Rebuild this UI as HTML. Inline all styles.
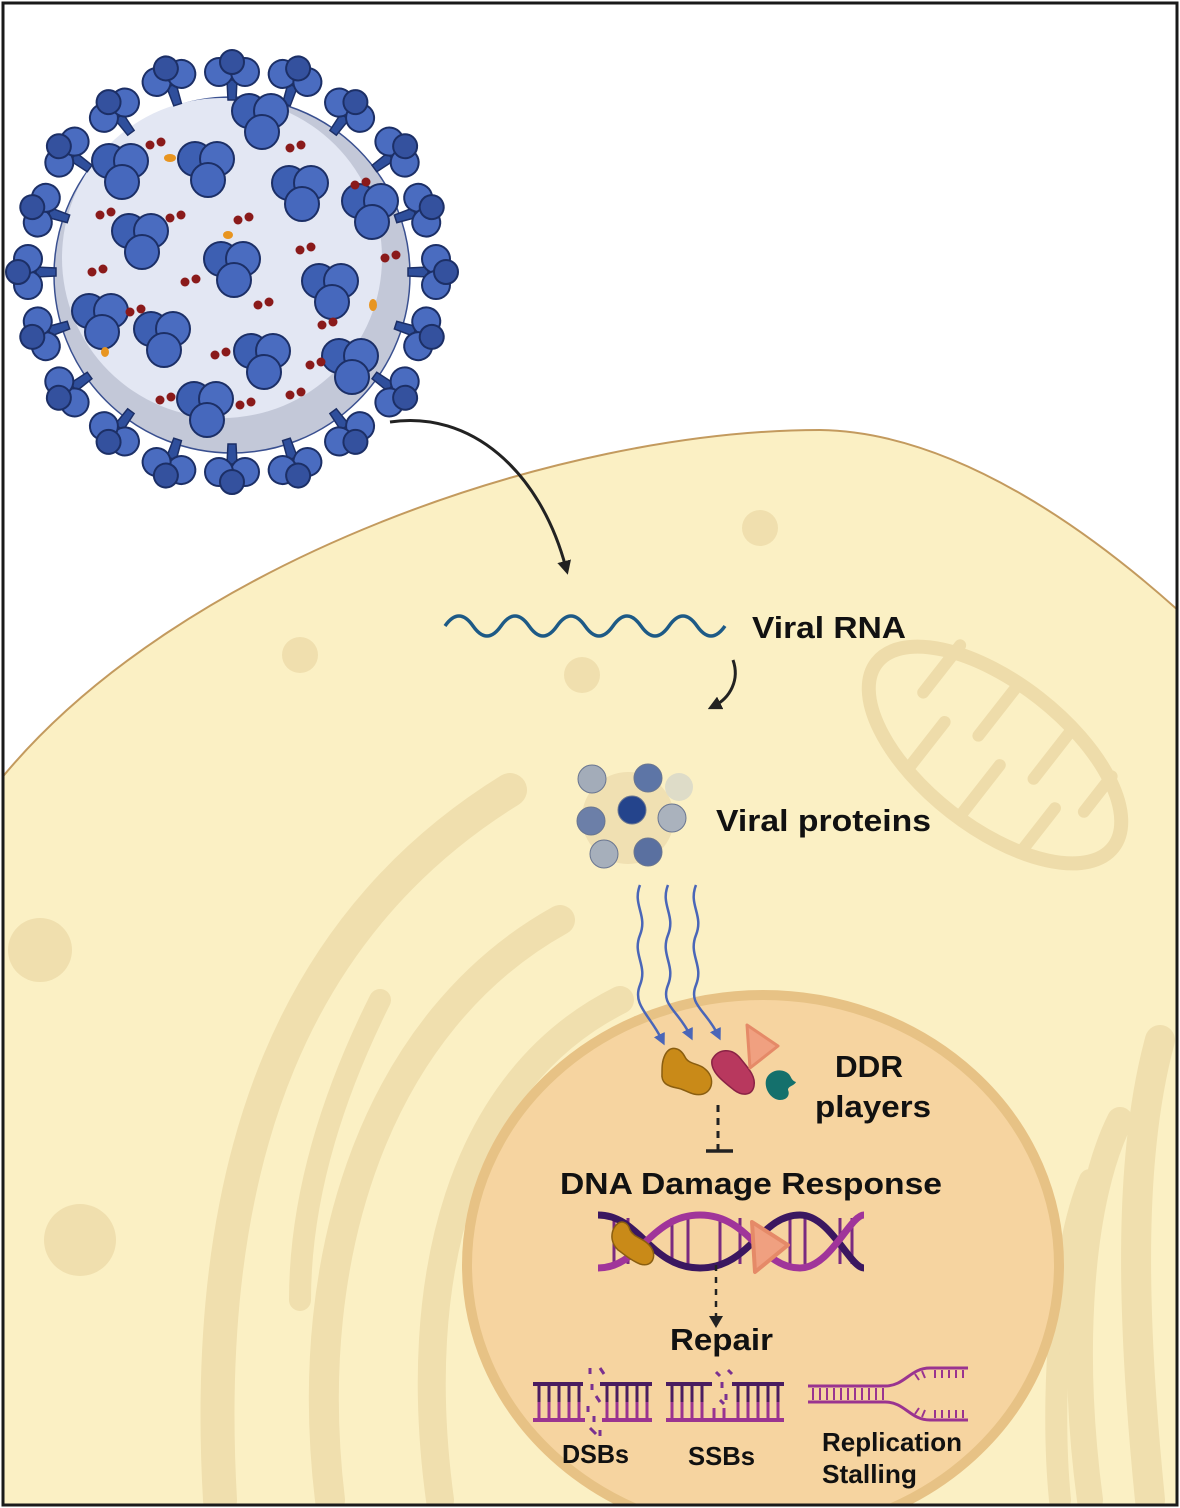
<!DOCTYPE html>
<html><head><meta charset="utf-8"><style>
html,body{margin:0;padding:0;background:#fff;width:1180px;height:1508px;overflow:hidden}
svg{display:block}
text{font-family:"Liberation Sans",sans-serif;font-weight:bold;fill:#111}
</style></head><body>
<svg width="1180" height="1508" viewBox="0 0 1180 1508" xmlns="http://www.w3.org/2000/svg">
<defs>
<clipPath id="frame"><rect x="4" y="4" width="1172" height="1500"/></clipPath>
<g id="spike">
 <path d="M-4 0 L-5 -20 L5 -20 L4 0 Z" fill="#2f4f9c" stroke="#1c2f66" stroke-width="1.5"/>
 <circle cx="-13" cy="-28" r="14" fill="#4a6cc0" stroke="#1c2f66" stroke-width="2"/>
 <circle cx="13" cy="-28" r="14" fill="#4a6cc0" stroke="#1c2f66" stroke-width="2"/>
 <circle cx="0" cy="-38" r="12" fill="#34519e" stroke="#1c2f66" stroke-width="2"/>
</g>
<g id="clus">
 <circle cx="-11" cy="-9" r="17" fill="#3d5fb2" stroke="#1c2f66" stroke-width="2"/>
 <circle cx="11" cy="-9" r="17" fill="#4a6cc0" stroke="#1c2f66" stroke-width="2"/>
 <circle cx="2" cy="12" r="17" fill="#4668bd" stroke="#1c2f66" stroke-width="2"/>
</g>
<g id="dots"><circle cx="0" cy="0" r="4.5" fill="#8a1a1a"/><circle cx="11" cy="-3" r="4.5" fill="#8a1a1a"/></g>
<marker id="ah" markerWidth="14" markerHeight="14" refX="7" refY="7" orient="auto" markerUnits="userSpaceOnUse" viewBox="0 0 14 14"><path d="M0 0 L14 7 L0 14 Z" fill="#222"/></marker>
<marker id="ahb" markerWidth="12" markerHeight="12" refX="6" refY="6" orient="auto" markerUnits="userSpaceOnUse" viewBox="0 0 12 12"><path d="M0 0 L12 6 L0 12 Z" fill="#4a66b8"/></marker>
</defs>
<rect x="0" y="0" width="1180" height="1508" fill="#fff"/>
<g clip-path="url(#frame)">
<!-- cell -->
<path d="M0 780 C180 560 560 430 820 430 C960 432 1100 540 1180 612 L1180 1508 L0 1508 Z" fill="#fbf0c4" stroke="#c39a5e" stroke-width="2"/>
<!-- ER bands -->
<g fill="none" stroke="#f0dfae" stroke-linecap="round">
 <path d="M510 790 C300 920 200 1150 220 1500" stroke-width="34"/>
 <path d="M560 920 C380 1020 300 1250 330 1500" stroke-width="30"/>
 <path d="M380 1000 C330 1100 300 1200 300 1300" stroke-width="22"/>
 <path d="M620 1000 C460 1080 410 1280 440 1500" stroke-width="28"/>
 <path d="M1160 1040 C1130 1150 1130 1300 1150 1500" stroke-width="30"/>
 <path d="M1120 1120 C1080 1200 1070 1350 1090 1500" stroke-width="26"/>
 <path d="M1090 1180 C1060 1250 1050 1400 1060 1500" stroke-width="22"/>
</g>
<circle cx="40" cy="950" r="32" fill="#f0dfae"/>
<circle cx="80" cy="1240" r="36" fill="#f0dfae"/>
<circle cx="300" cy="655" r="18" fill="#f0dfae"/>
<circle cx="582" cy="675" r="18" fill="#f0dfae"/>
<circle cx="760" cy="528" r="18" fill="#f0dfae"/>
<!-- mitochondrion -->
<g transform="rotate(38 995 755)">
 <ellipse cx="995" cy="755" rx="150" ry="72" fill="none" stroke="#eedcaa" stroke-width="14"/>
 <g stroke="#eedcaa" stroke-width="12" stroke-linecap="round">
  <line x1="900" y1="690" x2="900" y2="750"/><line x1="935" y1="820" x2="935" y2="760"/>
  <line x1="970" y1="690" x2="970" y2="750"/><line x1="1005" y1="820" x2="1005" y2="760"/>
  <line x1="1040" y1="690" x2="1040" y2="750"/><line x1="1075" y1="815" x2="1075" y2="760"/>
  <line x1="1100" y1="700" x2="1100" y2="745"/>
 </g>
</g>
<!-- nucleus -->
<ellipse cx="763" cy="1265" rx="296" ry="270" fill="#f6d4a0" stroke="#e7c285" stroke-width="10"/>
</g>
<rect x="3" y="3" width="1174" height="1502" fill="none" stroke="#1a1a1a" stroke-width="3"/>

<!-- virus -->
<g>
<circle cx="232" cy="275" r="178" fill="#c3c8d8" stroke="#3a5090" stroke-width="1.5"/>
<circle cx="222" cy="258" r="160" fill="#e3e7f3"/>
<g transform="rotate(0 232 272) translate(232 100)"><use href="#spike"/></g>
<g transform="rotate(18 232 272) translate(232 96)"><use href="#spike"/></g>
<g transform="rotate(36 232 272) translate(232 100)"><use href="#spike"/></g>
<g transform="rotate(54 232 272) translate(232 96)"><use href="#spike"/></g>
<g transform="rotate(72 232 272) translate(232 100)"><use href="#spike"/></g>
<g transform="rotate(90 232 272) translate(232 96)"><use href="#spike"/></g>
<g transform="rotate(108 232 272) translate(232 100)"><use href="#spike"/></g>
<g transform="rotate(126 232 272) translate(232 96)"><use href="#spike"/></g>
<g transform="rotate(144 232 272) translate(232 100)"><use href="#spike"/></g>
<g transform="rotate(162 232 272) translate(232 96)"><use href="#spike"/></g>
<g transform="rotate(180 232 272) translate(232 100)"><use href="#spike"/></g>
<g transform="rotate(198 232 272) translate(232 96)"><use href="#spike"/></g>
<g transform="rotate(216 232 272) translate(232 100)"><use href="#spike"/></g>
<g transform="rotate(234 232 272) translate(232 96)"><use href="#spike"/></g>
<g transform="rotate(252 232 272) translate(232 100)"><use href="#spike"/></g>
<g transform="rotate(270 232 272) translate(232 96)"><use href="#spike"/></g>
<g transform="rotate(288 232 272) translate(232 100)"><use href="#spike"/></g>
<g transform="rotate(306 232 272) translate(232 96)"><use href="#spike"/></g>
<g transform="rotate(324 232 272) translate(232 100)"><use href="#spike"/></g>
<g transform="rotate(342 232 272) translate(232 96)"><use href="#spike"/></g>
<use href="#clus" x="232" y="268"/>
<use href="#clus" x="140" y="240"/>
<use href="#clus" x="162" y="338"/>
<use href="#clus" x="206" y="168"/>
<use href="#clus" x="300" y="192"/>
<use href="#clus" x="330" y="290"/>
<use href="#clus" x="262" y="360"/>
<use href="#clus" x="100" y="320"/>
<use href="#clus" x="260" y="120"/>
<use href="#clus" x="120" y="170"/>
<use href="#clus" x="370" y="210"/>
<use href="#clus" x="350" y="365"/>
<use href="#clus" x="205" y="408"/>
<use href="#dots" x="150" y="145"/><use href="#dots" x="100" y="215"/><use href="#dots" x="170" y="218"/>
<use href="#dots" x="238" y="220"/><use href="#dots" x="290" y="148"/><use href="#dots" x="355" y="185"/>
<use href="#dots" x="300" y="250"/><use href="#dots" x="185" y="282"/><use href="#dots" x="92" y="272"/>
<use href="#dots" x="258" y="305"/><use href="#dots" x="130" y="312"/><use href="#dots" x="215" y="355"/>
<use href="#dots" x="322" y="325"/><use href="#dots" x="385" y="258"/><use href="#dots" x="160" y="400"/>
<use href="#dots" x="240" y="405"/><use href="#dots" x="290" y="395"/><use href="#dots" x="310" y="365"/>
<ellipse cx="170" cy="158" rx="6" ry="4" fill="#e89520"/>
<ellipse cx="228" cy="235" rx="5" ry="4" fill="#e89520"/>
<ellipse cx="373" cy="305" rx="4" ry="6" fill="#e89520"/>
<ellipse cx="105" cy="352" rx="4" ry="5" fill="#e89520"/>
</g>

<path d="M390 422 C470 410 540 470 566 568" fill="none" stroke="#222" stroke-width="3" marker-end="url(#ah)"/>
<path d="M445 630 q14 -20 28 0 t28 0 t28 0 t28 0 t28 0 t28 0 t28 0 t28 0 t28 0 t28 0" fill="none" stroke="#1d5a86" stroke-width="3.5" transform="translate(0 -4)"/>
<text x="752" y="638" font-size="31" textLength="154" lengthAdjust="spacingAndGlyphs">Viral RNA</text>
<path d="M733 660 C740 680 730 698 714 706" fill="none" stroke="#222" stroke-width="3" marker-end="url(#ah)"/>

<circle cx="628" cy="818" r="46" fill="#f0e0b2"/>
<g stroke="#6a7690" stroke-width="1">
<circle cx="592" cy="779" r="14" fill="#a3acb9"/>
<circle cx="648" cy="778" r="14" fill="#5d75a6"/>
<circle cx="679" cy="787" r="14" fill="#dedcc8" stroke="none"/>
<circle cx="591" cy="821" r="14" fill="#6c7fa8"/>
<circle cx="632" cy="810" r="14" fill="#24448c"/>
<circle cx="672" cy="818" r="14" fill="#aab2bd"/>
<circle cx="604" cy="854" r="14" fill="#a6afbb"/>
<circle cx="648" cy="852" r="14" fill="#5a70a0"/>
</g>
<text x="716" y="831" font-size="31" textLength="215" lengthAdjust="spacingAndGlyphs">Viral proteins</text>

<g fill="none" stroke="#4a66b8" stroke-width="2.5">
<path d="M640 885 c-8 20 8 30 0 50 s8 30 0 50 s10 30 22 55" marker-end="url(#ahb)"/>
<path d="M668 885 c-8 20 8 30 0 50 s8 30 0 50 s10 25 22 50" marker-end="url(#ahb)"/>
<path d="M696 885 c-8 20 8 30 0 50 s8 30 0 50 s10 25 22 50" marker-end="url(#ahb)"/>
</g>

<path d="M665 1055 c5 -10 15 -8 20 2 c4 8 14 6 20 12 c10 8 8 22 -2 25 c-10 3 -18 -5 -26 -6 c-10 -2 -16 -5 -15 -15 c0 -6 0 -12 3 -18 z" fill="#c98a18" stroke="#8a5e10" stroke-width="1.5"/>
<path d="M712 1060 c6 -12 20 -12 28 -2 c8 10 16 18 14 28 c-2 10 -12 10 -20 4 c-10 -8 -24 -18 -22 -30 z" fill="#b8385e" stroke="#8a2245" stroke-width="1.5"/>
<path d="M747 1025 L778 1046 L750 1068 Z" fill="#f0a080" stroke="#e58a68" stroke-width="3" stroke-linejoin="round"/>
<path d="M766 1080 c2 -8 12 -12 20 -8 c6 3 4 8 10 10 c-2 4 -8 4 -8 8 c2 4 0 10 -8 10 c-8 0 -16 -10 -14 -20 z" fill="#14706c"/>
<text x="835" y="1077" font-size="31" textLength="68" lengthAdjust="spacingAndGlyphs">DDR</text>
<text x="815" y="1117" font-size="31" textLength="116" lengthAdjust="spacingAndGlyphs">players</text>

<line x1="718" y1="1105" x2="718" y2="1150" stroke="#222" stroke-width="3" stroke-dasharray="7 6"/>
<line x1="706" y1="1151" x2="733" y2="1151" stroke="#222" stroke-width="3.5"/>
<text x="560" y="1194" font-size="31" textLength="382" lengthAdjust="spacingAndGlyphs">DNA Damage Response</text>

<g stroke="#7a2a80" stroke-width="3">
<line x1="614" y1="1218" x2="614" y2="1264"/><line x1="628" y1="1218" x2="628" y2="1264"/>
<line x1="672" y1="1218" x2="672" y2="1264"/><line x1="688" y1="1218" x2="688" y2="1264"/>
<line x1="720" y1="1218" x2="720" y2="1264"/><line x1="740" y1="1218" x2="740" y2="1264"/>
<line x1="790" y1="1218" x2="790" y2="1264"/><line x1="805" y1="1218" x2="805" y2="1264"/>
<line x1="840" y1="1218" x2="840" y2="1264"/><line x1="852" y1="1218" x2="852" y2="1264"/>
</g>
<path d="M598 1215 C640 1215 650 1268 700 1268 C750 1268 760 1215 800 1215 C830 1215 850 1268 864 1268" fill="none" stroke="#3b1760" stroke-width="7"/>
<path d="M598 1268 C640 1268 650 1215 700 1215 C750 1215 760 1268 800 1268 C830 1268 850 1215 864 1215" fill="none" stroke="#a0359a" stroke-width="7"/>
<path d="M614 1228 c6 -10 14 -6 16 2 c4 8 14 8 20 16 c8 10 2 22 -10 18 c-10 -4 -16 -10 -22 -14 c-6 -6 -8 -14 -4 -22 z" fill="#c98a18" stroke="#8a5e10" stroke-width="1.5"/>
<path d="M752 1222 L788 1245 L755 1272 Z" fill="#f0a080" stroke="#e58a68" stroke-width="4" stroke-linejoin="round"/>

<line x1="716" y1="1265" x2="716" y2="1316" stroke="#222" stroke-width="2.5" stroke-dasharray="6 6"/>
<path d="M709 1316 L723 1316 L716 1328 Z" fill="#222"/>
<text x="670" y="1350" font-size="31" textLength="103" lengthAdjust="spacingAndGlyphs">Repair</text>

<g>
<rect x="533" y="1382" width="50" height="4" fill="#4a1c60"/><rect x="600" y="1382" width="52" height="4" fill="#4a1c60"/>
<rect x="533" y="1418" width="52" height="4" fill="#9a3490"/><rect x="602" y="1418" width="50" height="4" fill="#9a3490"/>
<path d="M539 1386v16M549 1386v16M559 1386v16M569 1386v16M579 1386v16M607 1386v16M617 1386v16M627 1386v16M637 1386v16M647 1386v16" stroke="#4a1c60" stroke-width="3"/>
<path d="M539 1402v16M549 1402v16M559 1402v16M569 1402v16M579 1402v16M607 1402v16M617 1402v16M627 1402v16M637 1402v16M647 1402v16" stroke="#9a3490" stroke-width="3"/>
<path d="M590 1368v6M600 1368l4 6M592 1384v6M596 1396l4 6M588 1406v6M594 1416v6M590 1428l6 6M600 1430v6" stroke="#7a3090" stroke-width="3"/>
</g>
<g>
<rect x="666" y="1382" width="46" height="4" fill="#4a1c60"/><rect x="732" y="1382" width="52" height="4" fill="#4a1c60"/>
<rect x="666" y="1418" width="118" height="4" fill="#9a3490"/>
<path d="M672 1386v16M682 1386v16M692 1386v16M702 1386v16M738 1386v16M748 1386v16M758 1386v16M768 1386v16M778 1386v16" stroke="#4a1c60" stroke-width="3"/>
<path d="M672 1402v16M682 1402v16M692 1402v16M702 1402v16M714 1408v10M724 1408v10M738 1402v16M748 1402v16M758 1402v16M768 1402v16M778 1402v16" stroke="#9a3490" stroke-width="3"/>
<path d="M716 1372l4 4M728 1370l4 4M722 1382v6M726 1394v6M720 1400l4 4" stroke="#7a3090" stroke-width="3"/>
</g>
<g fill="none">
<path d="M808 1386 H885 C905 1386 910 1368 930 1368 H968" stroke="#9a3490" stroke-width="3"/>
<path d="M808 1402 H885 C905 1402 910 1420 930 1420 H968" stroke="#9a3490" stroke-width="3"/>
<path d="M813 1388v12M820 1388v12M827 1388v12M834 1388v12M841 1388v12M848 1388v12M855 1388v12M862 1388v12M869 1388v12M876 1388v12M883 1388v12" stroke="#9a3490" stroke-width="2"/>
<path d="M935 1370v8M942 1370v8M949 1370v8M956 1370v8M963 1370v8M935 1410v8M942 1410v8M949 1410v8M956 1410v8M963 1410v8M915 1374l4 6M922 1371l3 7M915 1414l4 -6M922 1417l3 -7" stroke="#9a3490" stroke-width="2"/>
</g>
<text x="562" y="1463" font-size="26" textLength="67" lengthAdjust="spacingAndGlyphs">DSBs</text>
<text x="688" y="1465" font-size="26" textLength="67" lengthAdjust="spacingAndGlyphs">SSBs</text>
<text x="822" y="1451" font-size="26" textLength="140" lengthAdjust="spacingAndGlyphs">Replication</text>
<text x="822" y="1483" font-size="26" textLength="95" lengthAdjust="spacingAndGlyphs">Stalling</text>
</svg>
</body></html>
